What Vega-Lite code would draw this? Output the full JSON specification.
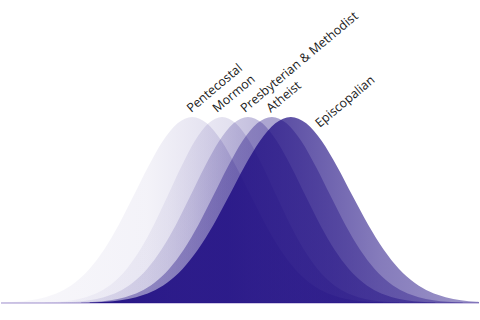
{
  "$schema": "https://vega.github.io/schema/vega-lite/v6.json",
  "width": 480,
  "height": 320,
  "padding": 0,
  "autosize": {"type": "fit", "contains": "padding"},
  "background": "white",
  "config": {"view": {"stroke": null}},
  "datasets": {
    "curves": [
      {"g":"Pentecostal","x":0.4,"y":0.0029},{"g":"Pentecostal","x":15.1,"y":0.0068},{"g":"Pentecostal","x":29.9,"y":0.0151},{"g":"Pentecostal","x":44.6,"y":0.0313},{"g":"Pentecostal","x":59.3,"y":0.0605},{"g":"Pentecostal","x":74.1,"y":0.109},{"g":"Pentecostal","x":88.8,"y":0.1833},{"g":"Pentecostal","x":103.6,"y":0.2875},{"g":"Pentecostal","x":118.3,"y":0.4208},{"g":"Pentecostal","x":133.0,"y":0.5747},{"g":"Pentecostal","x":147.8,"y":0.7323},{"g":"Pentecostal","x":162.5,"y":0.8707},{"g":"Pentecostal","x":177.3,"y":0.966},{"g":"Pentecostal","x":192,"y":1},{"g":"Pentecostal","x":206.7,"y":0.966},{"g":"Pentecostal","x":221.5,"y":0.8707},{"g":"Pentecostal","x":236.2,"y":0.7323},{"g":"Pentecostal","x":251.0,"y":0.5747},{"g":"Pentecostal","x":265.7,"y":0.4208},{"g":"Pentecostal","x":280.4,"y":0.2875},{"g":"Pentecostal","x":295.2,"y":0.1833},{"g":"Pentecostal","x":309.9,"y":0.109},{"g":"Pentecostal","x":324.7,"y":0.0605},{"g":"Pentecostal","x":339.4,"y":0.0313},{"g":"Pentecostal","x":354.1,"y":0.0151},{"g":"Pentecostal","x":368.9,"y":0.0068},{"g":"Pentecostal","x":383.6,"y":0.0029},
      {"g":"Mormon","x":44.2,"y":0.0029},{"g":"Mormon","x":57.8,"y":0.0068},{"g":"Mormon","x":71.5,"y":0.0151},{"g":"Mormon","x":85.2,"y":0.0313},{"g":"Mormon","x":98.9,"y":0.0605},{"g":"Mormon","x":112.6,"y":0.109},{"g":"Mormon","x":126.2,"y":0.1833},{"g":"Mormon","x":139.9,"y":0.2875},{"g":"Mormon","x":153.6,"y":0.4208},{"g":"Mormon","x":167.3,"y":0.5747},{"g":"Mormon","x":181.0,"y":0.7323},{"g":"Mormon","x":194.6,"y":0.8707},{"g":"Mormon","x":208.3,"y":0.966},{"g":"Mormon","x":222,"y":1},{"g":"Mormon","x":235.7,"y":0.966},{"g":"Mormon","x":249.4,"y":0.8707},{"g":"Mormon","x":263.0,"y":0.7323},{"g":"Mormon","x":276.7,"y":0.5747},{"g":"Mormon","x":290.4,"y":0.4208},{"g":"Mormon","x":304.1,"y":0.2875},{"g":"Mormon","x":317.8,"y":0.1833},{"g":"Mormon","x":331.4,"y":0.109},{"g":"Mormon","x":345.1,"y":0.0605},{"g":"Mormon","x":358.8,"y":0.0313},{"g":"Mormon","x":372.5,"y":0.0151},{"g":"Mormon","x":386.2,"y":0.0068},{"g":"Mormon","x":399.8,"y":0.0029},
      {"g":"Presbyterian & Methodist","x":59.9,"y":0.0029},{"g":"Presbyterian & Methodist","x":74.4,"y":0.0068},{"g":"Presbyterian & Methodist","x":88.8,"y":0.0151},{"g":"Presbyterian & Methodist","x":103.3,"y":0.0313},{"g":"Presbyterian & Methodist","x":117.8,"y":0.0605},{"g":"Presbyterian & Methodist","x":132.2,"y":0.109},{"g":"Presbyterian & Methodist","x":146.7,"y":0.1833},{"g":"Presbyterian & Methodist","x":161.2,"y":0.2875},{"g":"Presbyterian & Methodist","x":175.7,"y":0.4208},{"g":"Presbyterian & Methodist","x":190.1,"y":0.5747},{"g":"Presbyterian & Methodist","x":204.6,"y":0.7323},{"g":"Presbyterian & Methodist","x":219.1,"y":0.8707},{"g":"Presbyterian & Methodist","x":233.5,"y":0.966},{"g":"Presbyterian & Methodist","x":248,"y":1},{"g":"Presbyterian & Methodist","x":262.5,"y":0.966},{"g":"Presbyterian & Methodist","x":276.9,"y":0.8707},{"g":"Presbyterian & Methodist","x":291.4,"y":0.7323},{"g":"Presbyterian & Methodist","x":305.9,"y":0.5747},{"g":"Presbyterian & Methodist","x":320.4,"y":0.4208},{"g":"Presbyterian & Methodist","x":334.8,"y":0.2875},{"g":"Presbyterian & Methodist","x":349.3,"y":0.1833},{"g":"Presbyterian & Methodist","x":363.8,"y":0.109},{"g":"Presbyterian & Methodist","x":378.2,"y":0.0605},{"g":"Presbyterian & Methodist","x":392.7,"y":0.0313},{"g":"Presbyterian & Methodist","x":407.2,"y":0.0151},{"g":"Presbyterian & Methodist","x":421.6,"y":0.0068},{"g":"Presbyterian & Methodist","x":436.1,"y":0.0029},
      {"g":"Atheist","x":80.4,"y":0.0029},{"g":"Atheist","x":95.1,"y":0.0068},{"g":"Atheist","x":109.9,"y":0.0151},{"g":"Atheist","x":124.6,"y":0.0313},{"g":"Atheist","x":139.3,"y":0.0605},{"g":"Atheist","x":154.1,"y":0.109},{"g":"Atheist","x":168.8,"y":0.1833},{"g":"Atheist","x":183.6,"y":0.2875},{"g":"Atheist","x":198.3,"y":0.4208},{"g":"Atheist","x":213.0,"y":0.5747},{"g":"Atheist","x":227.8,"y":0.7323},{"g":"Atheist","x":242.5,"y":0.8707},{"g":"Atheist","x":257.3,"y":0.966},{"g":"Atheist","x":272,"y":1},{"g":"Atheist","x":286.7,"y":0.966},{"g":"Atheist","x":301.5,"y":0.8707},{"g":"Atheist","x":316.2,"y":0.7323},{"g":"Atheist","x":331.0,"y":0.5747},{"g":"Atheist","x":345.7,"y":0.4208},{"g":"Atheist","x":360.4,"y":0.2875},{"g":"Atheist","x":375.2,"y":0.1833},{"g":"Atheist","x":389.9,"y":0.109},{"g":"Atheist","x":404.7,"y":0.0605},{"g":"Atheist","x":419.4,"y":0.0313},{"g":"Atheist","x":434.1,"y":0.0151},{"g":"Atheist","x":448.9,"y":0.0068},{"g":"Atheist","x":463.6,"y":0.0029},
      {"g":"Episcopalian","x":89.1,"y":0.0029},{"g":"Episcopalian","x":104.6,"y":0.0068},{"g":"Episcopalian","x":120.2,"y":0.0151},{"g":"Episcopalian","x":135.7,"y":0.0313},{"g":"Episcopalian","x":151.2,"y":0.0605},{"g":"Episcopalian","x":166.8,"y":0.109},{"g":"Episcopalian","x":182.3,"y":0.1833},{"g":"Episcopalian","x":197.8,"y":0.2875},{"g":"Episcopalian","x":213.4,"y":0.4208},{"g":"Episcopalian","x":228.9,"y":0.5747},{"g":"Episcopalian","x":244.4,"y":0.7323},{"g":"Episcopalian","x":260.0,"y":0.8707},{"g":"Episcopalian","x":275.5,"y":0.966},{"g":"Episcopalian","x":291,"y":1},{"g":"Episcopalian","x":306.5,"y":0.966},{"g":"Episcopalian","x":322.1,"y":0.8707},{"g":"Episcopalian","x":337.6,"y":0.7323},{"g":"Episcopalian","x":353.1,"y":0.5747},{"g":"Episcopalian","x":368.7,"y":0.4208},{"g":"Episcopalian","x":384.2,"y":0.2875},{"g":"Episcopalian","x":399.7,"y":0.1833},{"g":"Episcopalian","x":415.3,"y":0.109},{"g":"Episcopalian","x":430.8,"y":0.0605},{"g":"Episcopalian","x":446.4,"y":0.0313},{"g":"Episcopalian","x":461.9,"y":0.0151},{"g":"Episcopalian","x":477.4,"y":0.0068},{"g":"Episcopalian","x":492.9,"y":0.0029}
    ],
    "labels": [
      {"g":"Pentecostal","mean":192,"peak":1},
      {"g":"Mormon","mean":218,"peak":1},
      {"g":"Presbyterian & Methodist","mean":246,"peak":1},
      {"g":"Atheist","mean":272,"peak":1},
      {"g":"Episcopalian","mean":291,"peak":1}
    ]
  },
  "encoding": {
    "x": {"field": "x", "type": "quantitative", "scale": {"domain": [0, 480], "nice": false, "zero": false}, "axis": null},
    "y": {"field": "y", "type": "quantitative", "stack": null, "scale": {"domain": [-0.0914, 1.629], "nice": false, "zero": false}, "axis": null}
  },
  "layer": [
    {
      "data": {"name": "curves"},
      "mark": {"type": "rule", "color": "#cfc7e6", "strokeWidth": 1.5},
      "encoding": {"x": {"datum": 0}, "x2": {"datum": 480}, "y": {"datum": 0}}
    },
    {
      "data": {"name": "curves"},
      "transform": [{"filter": "datum.g === 'Pentecostal'"}],
      "mark": {"type": "area", "interpolate": "monotone", "clip": true,
        "color": {"gradient": "linear", "x1": 0, "y1": 0, "x2": 1, "y2": 0,
          "stops": [{"offset": 0, "color": "rgba(30,12,130,0.03)"}, {"offset": 0.38, "color": "rgba(30,12,130,0.05)"}, {"offset": 0.83, "color": "rgba(30,12,130,0.23)"}, {"offset": 1, "color": "rgba(30,12,130,0.3)"}]}},
      "encoding": {"y2": {"datum": 0}}
    },
    {
      "data": {"name": "curves"},
      "transform": [{"filter": "datum.g === 'Mormon'"}],
      "mark": {"type": "area", "interpolate": "monotone", "clip": true,
        "color": {"gradient": "linear", "x1": 0, "y1": 0, "x2": 1, "y2": 0,
          "stops": [{"offset": 0, "color": "rgba(30,12,130,0.03)"}, {"offset": 0.35, "color": "rgba(30,12,130,0.06)"}, {"offset": 0.8, "color": "rgba(30,12,130,0.23)"}, {"offset": 1, "color": "rgba(30,12,130,0.3)"}]}},
      "encoding": {"y2": {"datum": 0}}
    },
    {
      "data": {"name": "curves"},
      "transform": [{"filter": "datum.g === 'Presbyterian & Methodist'"}],
      "mark": {"type": "area", "interpolate": "monotone", "clip": true,
        "color": {"gradient": "linear", "x1": 0, "y1": 0, "x2": 1, "y2": 0,
          "stops": [{"offset": 0, "color": "rgba(30,12,130,0.08)"}, {"offset": 0.35, "color": "rgba(30,12,130,0.15)"}, {"offset": 0.72, "color": "rgba(30,12,130,0.39)"}, {"offset": 1, "color": "rgba(30,12,130,0.45)"}]}},
      "encoding": {"y2": {"datum": 0}}
    },
    {
      "data": {"name": "curves"},
      "transform": [{"filter": "datum.g === 'Atheist'"}],
      "mark": {"type": "area", "interpolate": "monotone", "clip": true,
        "color": {"gradient": "linear", "x1": 0, "y1": 0, "x2": 1, "y2": 0,
          "stops": [{"offset": 0, "color": "rgba(30,12,130,0.37)"}, {"offset": 1, "color": "rgba(30,12,130,0.37)"}]}},
      "encoding": {"y2": {"datum": 0}}
    },
    {
      "data": {"name": "curves"},
      "transform": [{"filter": "datum.g === 'Episcopalian'"}],
      "mark": {"type": "area", "interpolate": "monotone", "clip": true,
        "color": {"gradient": "linear", "x1": 0, "y1": 0, "x2": 1, "y2": 0,
          "stops": [{"offset": 0, "color": "rgba(30,12,130,0.92)"}, {"offset": 0.34, "color": "rgba(30,12,130,0.83)"}, {"offset": 0.72, "color": "rgba(30,12,130,0.54)"}, {"offset": 1, "color": "rgba(30,12,130,0.42)"}]}},
      "encoding": {"y2": {"datum": 0}}
    },
    {
      "data": {"name": "labels"},
      "transform": [{"filter": "datum.g !== 'Episcopalian'"}],
      "mark": {"type": "text", "align": "left", "baseline": "alphabetic", "angle": 320, "xOffset": -1, "yOffset": -4, "font": "Open Sans", "fontSize": 12.5, "color": "#1a1a1a"},
      "encoding": {
        "x": {"field": "mean", "type": "quantitative"},
        "y": {"field": "peak", "type": "quantitative"},
        "text": {"field": "g"}
      }
    },
    {
      "data": {"name": "labels"},
      "transform": [{"filter": "datum.g === 'Episcopalian'"}],
      "mark": {"type": "text", "align": "left", "baseline": "alphabetic", "angle": 320, "xOffset": 29, "yOffset": 11, "font": "Open Sans", "fontSize": 12.5, "color": "#1a1a1a"},
      "encoding": {
        "x": {"field": "mean", "type": "quantitative"},
        "y": {"field": "peak", "type": "quantitative"},
        "text": {"field": "g"}
      }
    }
  ]
}
